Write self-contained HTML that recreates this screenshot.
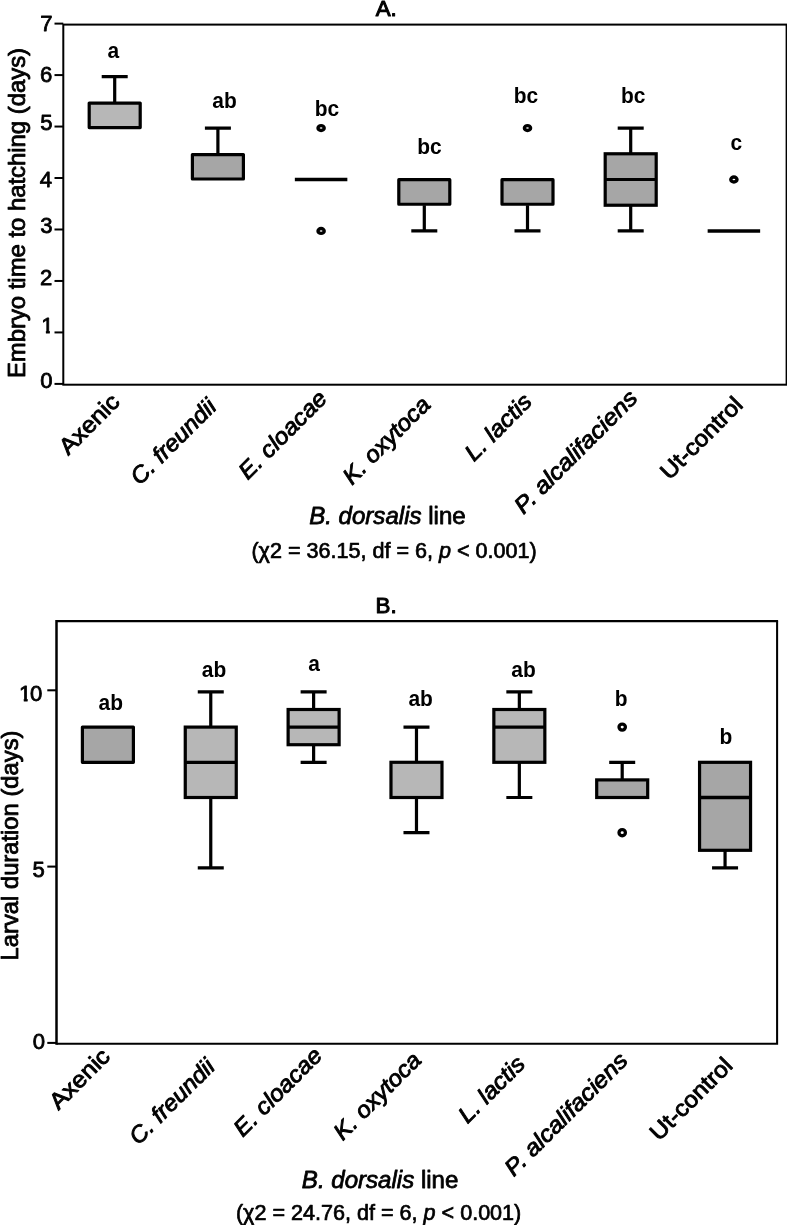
<!DOCTYPE html>
<html><head><meta charset="utf-8"><title>Figure</title>
<style>
html,body{margin:0;padding:0;background:#fff;}
svg{display:block;}
text{font-family:"Liberation Sans",sans-serif;fill:#000;stroke-linejoin:round;}
.bd{font-weight:bold;}
.axA{stroke:#000;stroke-width:2.0;fill:none;}
.axB{stroke:#000;fill:none;stroke-width:2.05;}
.w{stroke:#000;stroke-width:3.2;fill:none;}
.m{stroke:#000;stroke-width:3.5;fill:none;}
.md{stroke:#000;fill:none;}
.b{stroke:#000;stroke-width:3.2;}
.o{stroke:#000;fill:#fff;}
</style></head><body>
<svg width="787" height="1225" viewBox="0 0 787 1225">
<rect width="787" height="1225" fill="#fff"/>
<defs><filter id="soft" filterUnits="userSpaceOnUse" x="-20" y="-20" width="827" height="1265"><feGaussianBlur stdDeviation="0.35"/></filter></defs>
<g filter="url(#soft)">
<!-- Plot A -->
<rect x="63.3" y="24.6" width="723.30" height="360.10" class="axA"/>
<path d="M54.5,383.90H63.3" class="axA"/>
<text class="r" transform="translate(40.17,387.53) scale(1.0000,1)" font-size="22.10" stroke="#000" stroke-width="0.8">0</text>
<path d="M54.5,332.43H63.3" class="axA"/>
<clipPath id="c1"><rect x="36" y="300" width="20" height="30.9"/><rect x="45.9" y="330.9" width="3.9" height="6"/></clipPath><g clip-path="url(#c1)"><text class="r" transform="translate(41.28,332.62) scale(1.0000,1)" font-size="22.10" stroke="#000" stroke-width="0.8">1</text></g>
<path d="M54.5,280.96H63.3" class="axA"/>
<text class="r" transform="translate(40.03,284.65) scale(1.0000,1)" font-size="22.10" stroke="#000" stroke-width="0.8">2</text>
<path d="M54.5,229.49H63.3" class="axA"/>
<text class="r" transform="translate(40.17,233.07) scale(1.0000,1)" font-size="22.10" stroke="#000" stroke-width="0.8">3</text>
<path d="M54.5,178.02H63.3" class="axA"/>
<text class="r" transform="translate(39.80,186.78) scale(1.0000,1)" font-size="22.10" stroke="#000" stroke-width="0.8">4</text>
<path d="M54.5,126.55H63.3" class="axA"/>
<text class="r" transform="translate(40.17,130.45) scale(1.0000,1)" font-size="22.10" stroke="#000" stroke-width="0.8">5</text>
<path d="M54.5,75.08H63.3" class="axA"/>
<text class="r" transform="translate(40.05,82.08) scale(1.0000,1)" font-size="22.10" stroke="#000" stroke-width="0.8">6</text>
<path d="M54.5,23.61H63.3" class="axA"/>
<text class="r" transform="translate(40.28,30.90) scale(1.0000,1)" font-size="22.10" stroke="#000" stroke-width="0.8">7</text>
<text class="r" transform="translate(375.65,15.55) scale(1.0200,1)" font-size="21.90" stroke="#000" stroke-width="1.0">A.</text>
<text class="r" transform="translate(24.52,378.12) rotate(-90) scale(0.9945,1)" font-size="24.00" stroke="#000" stroke-width="0.85">Embryo time to hatching (days)</text>
<path d="M114.70,102.32V76.60M101.70,76.60H127.70" class="w"/>
<rect x="89.20" y="103.12" width="51.00" height="24.43" fill="#b7b7b7" class="b" stroke-linejoin="round"/>
<path d="M217.90,153.78V128.05M204.90,128.05H230.90" class="w"/>
<rect x="192.40" y="154.58" width="51.00" height="24.42" fill="#a6a6a6" class="b" stroke-linejoin="round"/>
<path d="M294.85,179.50H347.35" class="m"/>
<ellipse cx="321.10" cy="128.05" rx="3.1" ry="2.45" stroke-width="3.4" class="o"/>
<ellipse cx="321.10" cy="230.95" rx="3.1" ry="2.45" stroke-width="3.4" class="o"/>
<path d="M424.30,205.22V230.95M411.30,230.95H437.30" class="w"/>
<rect x="398.80" y="179.70" width="51.00" height="24.53" fill="#a6a6a6" class="b" stroke-linejoin="round"/>
<path d="M527.50,205.22V230.95M514.50,230.95H540.50" class="w"/>
<rect x="502.00" y="179.70" width="51.00" height="24.53" fill="#a6a6a6" class="b" stroke-linejoin="round"/>
<ellipse cx="527.50" cy="128.05" rx="3.1" ry="2.45" stroke-width="3.4" class="o"/>
<path d="M630.70,153.78V128.05M617.70,128.05H643.70" class="w"/>
<path d="M630.70,205.22V230.95M617.70,230.95H643.70" class="w"/>
<rect x="605.20" y="153.78" width="51.00" height="51.45" fill="#a6a6a6" class="b"/>
<path d="M605.20,179.50H656.20" stroke-width="2.9" class="md"/>
<path d="M707.65,230.95H760.15" class="m"/>
<ellipse cx="733.90" cy="179.50" rx="3.1" ry="2.45" stroke-width="3.4" class="o"/>
<text class="bd" transform="translate(107.55,57.88) scale(0.9600,1)" font-size="21.80">a</text>
<text class="bd" transform="translate(212.35,107.75) scale(0.9600,1)" font-size="21.80">ab</text>
<text class="bd" transform="translate(314.75,115.75) scale(0.9600,1)" font-size="21.80">bc</text>
<text class="bd" transform="translate(417.17,153.75) scale(0.9600,1)" font-size="21.80">bc</text>
<text class="bd" transform="translate(513.72,102.75) scale(0.9600,1)" font-size="21.80">bc</text>
<text class="bd" transform="translate(620.90,103.10) scale(0.9600,1)" font-size="21.80">bc</text>
<text class="bd" transform="translate(730.60,150.47) scale(0.9600,1)" font-size="21.80">c</text>
<text class="r" transform="translate(68.35,455.97) rotate(-45) scale(1.0784,1)" font-size="23.00" stroke="#000" stroke-width="0.9">Axenic</text>
<text class="r" transform="translate(139.77,486.03) rotate(-45) scale(1.0519,1)" font-size="23.00" stroke="#000" stroke-width="0.9"><tspan font-style="italic">C. freundii</tspan></text>
<text class="r" transform="translate(247.63,480.52) rotate(-45) scale(1.0639,1)" font-size="23.00" stroke="#000" stroke-width="0.9"><tspan font-style="italic">E. cloacae</tspan></text>
<text class="r" transform="translate(351.90,485.70) rotate(-45) scale(1.0506,1)" font-size="23.00" stroke="#000" stroke-width="0.9"><tspan font-style="italic">K. oxytoca</tspan></text>
<text class="r" transform="translate(474.10,462.32) rotate(-45) scale(1.0747,1)" font-size="23.00" stroke="#000" stroke-width="0.9"><tspan font-style="italic">L. lactis</tspan></text>
<text class="r" transform="translate(523.38,515.00) rotate(-45) scale(1.0861,1)" font-size="23.00" stroke="#000" stroke-width="0.9"><tspan font-style="italic">P. alcalifaciens</tspan></text>
<text class="r" transform="translate(669.58,480.70) rotate(-45) scale(1.0576,1)" font-size="23.00" stroke="#000" stroke-width="0.9">Ut-control</text>
<text class="r" transform="translate(309.15,524.20) scale(0.9930,1)" font-size="24.26" stroke="#000" stroke-width="0.8"><tspan font-style="italic">B. dorsalis</tspan> line</text>
<text class="r" transform="translate(251.38,558.12) scale(0.9950,1)" font-size="21.70" stroke="#000" stroke-width="0.7">(χ2 = 36.15, df = 6, <tspan font-style="italic">p</tspan> &lt; 0.001)</text>
<!-- Plot B -->
<path d="M56.5,620.10V1044.65" class="axB" style="stroke-width:2.5"/>
<path d="M56.5,621.2H778.10" class="axB" style="stroke-width:2.3"/>
<path d="M777.1,621.2V1044.65M56.5,1043.65H778.10" class="axB"/>
<path d="M47.3,1042.90H56.5" class="axB"/>
<text class="r" transform="translate(32.70,1048.73) scale(1.0000,1)" font-size="22.10" stroke="#000" stroke-width="0.8">0</text>
<path d="M47.3,866.60H56.5" class="axB"/>
<text class="r" transform="translate(32.57,876.50) scale(1.0000,1)" font-size="22.10" stroke="#000" stroke-width="0.8">5</text>
<path d="M47.3,690.30H56.5" class="axB"/>
<clipPath id="c2"><rect x="10" y="670" width="36" height="28.9"/><rect x="23.8" y="698.9" width="3.8" height="6"/><rect x="31" y="698.9" width="15" height="6"/></clipPath><g clip-path="url(#c2)"><text class="r" transform="translate(17.68,700.78) scale(1.0000,1)" font-size="22.10" stroke="#000" stroke-width="0.8"><tspan dx="1.4">1</tspan><tspan dx="-1.4">0</tspan></text></g>
<text class="r" transform="translate(375.53,613.15) scale(1.0200,1)" font-size="21.90" stroke="#000" stroke-width="1.0">B.</text>
<text class="r" transform="translate(17.58,960.42) rotate(-90) scale(0.9910,1)" font-size="24.00" stroke="#000" stroke-width="0.85">Larval duration (days)</text>
<rect x="82.40" y="727.10" width="51.00" height="35.20" fill="#a6a6a6" class="b" stroke-linejoin="round"/>
<path d="M210.76,727.10V691.90M197.76,691.90H223.76" class="w"/>
<path d="M210.76,797.50V867.90M197.76,867.90H223.76" class="w"/>
<rect x="185.26" y="727.10" width="51.00" height="70.40" fill="#b7b7b7" class="b"/>
<path d="M185.26,762.30H236.26" stroke-width="3.3" class="md"/>
<path d="M313.62,709.50V691.90M300.62,691.90H326.62" class="w"/>
<path d="M313.62,744.70V762.30M300.62,762.30H326.62" class="w"/>
<rect x="288.12" y="709.50" width="51.00" height="35.20" fill="#b7b7b7" class="b"/>
<path d="M288.12,727.10H339.12" stroke-width="3.3" class="md"/>
<path d="M416.48,762.30V727.10M403.48,727.10H429.48" class="w"/>
<path d="M416.48,797.50V832.70M403.48,832.70H429.48" class="w"/>
<rect x="390.98" y="762.30" width="51.00" height="35.20" fill="#b7b7b7" class="b"/>
<path d="M519.34,709.50V691.90M506.34,691.90H532.34" class="w"/>
<path d="M519.34,762.30V797.50M506.34,797.50H532.34" class="w"/>
<rect x="493.84" y="709.50" width="51.00" height="52.80" fill="#b7b7b7" class="b"/>
<path d="M493.84,727.10H544.84" stroke-width="3.3" class="md"/>
<path d="M622.20,779.90V762.30M609.20,762.30H635.20" class="w"/>
<rect x="596.70" y="779.90" width="51.00" height="17.60" fill="#a6a6a6" class="b"/>
<ellipse cx="622.20" cy="727.10" rx="3.2" ry="3.05" stroke-width="3.3" class="o"/>
<ellipse cx="622.20" cy="832.70" rx="3.2" ry="3.05" stroke-width="3.3" class="o"/>
<path d="M725.06,850.30V867.90M712.06,867.90H738.06" class="w"/>
<rect x="699.56" y="762.30" width="51.00" height="88.00" fill="#a6a6a6" class="b"/>
<path d="M699.56,797.50H750.56" stroke-width="3.3" class="md"/>
<text class="bd" transform="translate(98.60,710.10) scale(0.9600,1)" font-size="21.80">ab</text>
<text class="bd" transform="translate(201.75,676.65) scale(0.9600,1)" font-size="21.80">ab</text>
<text class="bd" transform="translate(308.27,670.88) scale(0.9600,1)" font-size="21.80">a</text>
<text class="bd" transform="translate(408.48,705.70) scale(0.9600,1)" font-size="21.80">ab</text>
<text class="bd" transform="translate(511.35,676.65) scale(0.9600,1)" font-size="21.80">ab</text>
<text class="bd" transform="translate(614.65,705.70) scale(0.9600,1)" font-size="21.80">b</text>
<text class="bd" transform="translate(719.55,743.65) scale(0.9600,1)" font-size="21.80">b</text>
<text class="r" transform="translate(58.48,1110.72) rotate(-45) scale(1.0839,1)" font-size="23.00" stroke="#000" stroke-width="0.9">Axenic</text>
<text class="r" transform="translate(138.52,1145.75) rotate(-45) scale(1.0483,1)" font-size="23.00" stroke="#000" stroke-width="0.9"><tspan font-style="italic">C. freundii</tspan></text>
<text class="r" transform="translate(242.85,1137.63) rotate(-45) scale(1.0639,1)" font-size="23.00" stroke="#000" stroke-width="0.9"><tspan font-style="italic">E. cloacae</tspan></text>
<text class="r" transform="translate(342.82,1141.18) rotate(-45) scale(1.0506,1)" font-size="23.00" stroke="#000" stroke-width="0.9"><tspan font-style="italic">K. oxytoca</tspan></text>
<text class="r" transform="translate(467.50,1124.28) rotate(-45) scale(1.0695,1)" font-size="23.00" stroke="#000" stroke-width="0.9"><tspan font-style="italic">L. lactis</tspan></text>
<text class="r" transform="translate(513.77,1177.22) rotate(-45) scale(1.0838,1)" font-size="23.00" stroke="#000" stroke-width="0.9"><tspan font-style="italic">P. alcalifaciens</tspan></text>
<text class="r" transform="translate(659.10,1141.75) rotate(-45) scale(1.0613,1)" font-size="23.00" stroke="#000" stroke-width="0.9">Ut-control</text>
<text class="r" transform="translate(301.85,1187.60) scale(0.9930,1)" font-size="24.26" stroke="#000" stroke-width="0.8"><tspan font-style="italic">B. dorsalis</tspan> line</text>
<text class="r" transform="translate(235.93,1220.37) scale(0.9950,1)" font-size="21.70" stroke="#000" stroke-width="0.7">(χ2 = 24.76, df = 6, <tspan font-style="italic">p</tspan> &lt; 0.001)</text>
</g></svg></body></html>
